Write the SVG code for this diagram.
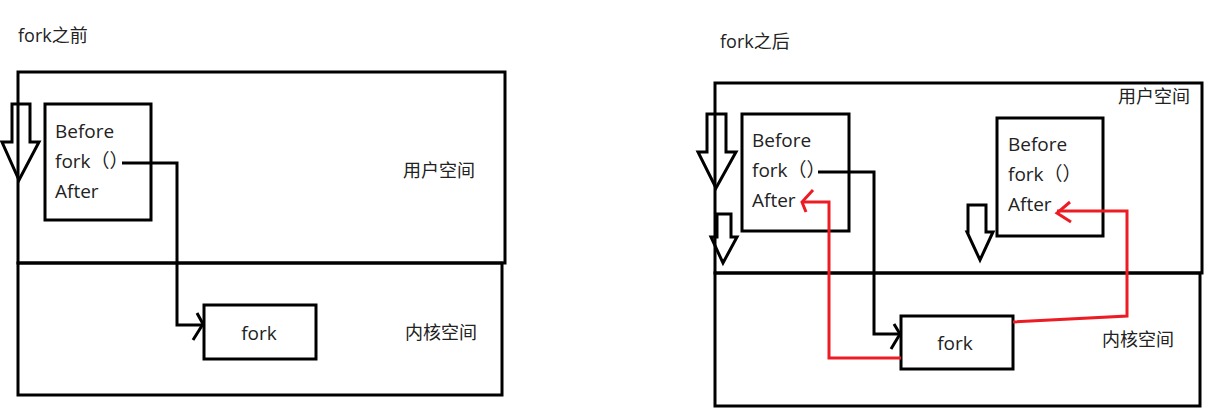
<svg xmlns="http://www.w3.org/2000/svg" width="1218" height="417" viewBox="0 0 1218 417">
<style>
.bx{fill:none;stroke:#000;stroke-width:3}
.ln{fill:none;stroke:#000;stroke-width:3;stroke-linejoin:miter}
.rd{fill:none;stroke:#ED1C24;stroke-width:3;stroke-linejoin:miter}
.ar{fill:none;stroke:#000;stroke-width:3;stroke-linejoin:miter}
text{font-family:"Open Sans","Noto Sans CJK SC",sans-serif;font-size:18px;fill:#222}
.t{font-size:19px}
</style>
<rect width="1218" height="417" fill="#fff"/>
<text x="18" y="42">fork之前</text>
<text x="720" y="48">fork之后</text>

<g id="left-user-space">
<rect class="bx" x="18" y="72" width="487" height="191"/>
<text x="403" y="177">用户空间</text>
</g>
<g id="left-kernel-space">
<rect class="bx" x="18" y="263" width="484" height="132" stroke-width="4"/>
<text x="405" y="339">内核空间</text>
</g>
<g id="left-program">
<rect class="bx" x="45" y="104" width="106" height="116"/>
<text class="t" x="55" y="138">Before</text>
<text class="t" x="55" y="168">fork（）</text>
<text class="t" x="55" y="198">After</text>
</g>
<g id="left-fork">
<rect class="bx" x="204" y="305" width="112" height="54"/>
<text class="t" x="259" y="340" text-anchor="middle">fork</text>
</g>
<g id="left-flow-arrow">
<polygon class="ar" points="12,104 30,104 30,142 39,142 19,180 2,142 12,142"/>
</g>

<g id="right-user-space">
<rect class="bx" x="715" y="83" width="487" height="190"/>
<text x="1118" y="103">用户空间</text>
</g>
<g id="right-kernel-space">
<rect class="bx" x="715" y="273" width="485" height="133" stroke-width="4"/>
<text x="1102" y="346">内核空间</text>
</g>
<g id="right-parent">
<rect class="bx" x="742" y="114" width="107" height="117"/>
<text class="t" x="752" y="147">Before</text>
<text class="t" x="752" y="177">fork（）</text>
<text class="t" x="752" y="207">After</text>
</g>
<g id="right-child">
<rect class="bx" x="997" y="118" width="106" height="118"/>
<text class="t" x="1008" y="151">Before</text>
<text class="t" x="1008" y="181">fork（）</text>
<text class="t" x="1008" y="211">After</text>
</g>
<g id="right-fork">
<rect class="bx" x="901" y="316" width="112" height="53"/>
<text class="t" x="955" y="350" text-anchor="middle">fork</text>
</g>
<g id="right-flow-arrows">
<polygon class="ar" points="707,114 726,114 726,152 736,152 716,188 698,152 707,152"/>
<polygon class="ar" points="717,214 731,214 731,237 737,237 723,263 711,237 717,237"/>
<polygon class="ar" points="968,205 986,205 986,232 993,232 980,260 967,232 968,232"/>
</g>

<g id="connectors">
<polyline class="ln" points="122,163 177,163 177,325 203,325"/>
<polyline class="ln" points="197,313 203,324 193,340"/>
<polyline class="ln" points="818,172 874,172 874,334 900,334"/>
<polyline class="ln" points="894,324 900,334 891,349"/>
<polyline class="rd" points="901,358 829,358 829,202 803,202"/>
<polyline class="rd" points="813,190 802,202 806,212"/>
<polyline class="rd" points="1013,322 1127,316 1127,211 1057,211"/>
<polyline class="rd" points="1070,202 1057,213 1071,222"/>
</g>
</svg>
